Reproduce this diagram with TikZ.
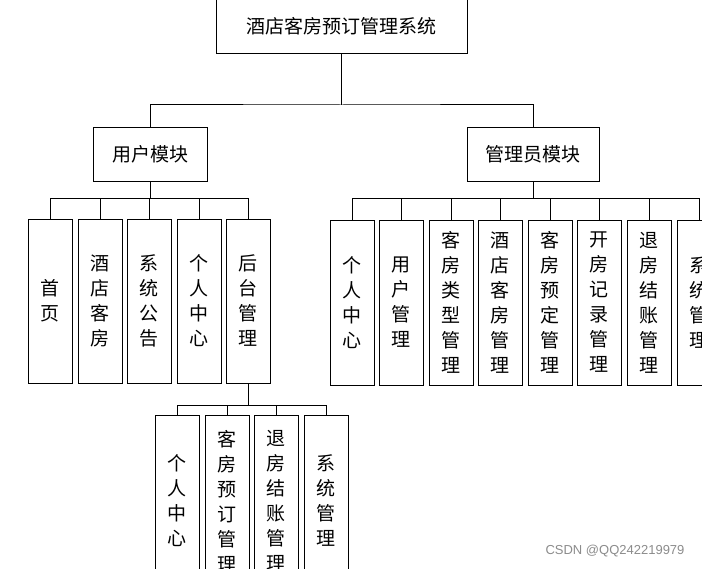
\documentclass[tikz,border=0pt]{standalone}
\usepackage{fontspec}
\newfontfamily\cjk{Noto Sans CJK SC}
\begin{document}
\begin{tikzpicture}[x=1pt,y=-1pt,
  box/.style={draw,line width=0.8pt,fill=white,inner sep=0pt,font=\cjk\fontsize{19}{25}\selectfont},
  vbox/.style={box,minimum width=44pt,minimum height=164pt,align=center},
  ln/.style={line width=1pt}]
\useasboundingbox (0,0) rectangle (702,569);
\clip (0,0) rectangle (702,569);
\fill[white] (0,0) rectangle (702,569);
\node[box,minimum width=251pt,minimum height=54pt] (root) at (341.5,26) {酒店客房预订管理系统};
\node[box,minimum width=114pt,minimum height=54pt] (user) at (150,154) {用户模块};
\node[box,minimum width=132pt,minimum height=54pt] (admin) at (533,154) {管理员模块};
\coordinate (r1) at (341.5,105);
\draw[ln] (root.south) -- (r1);
\draw[ln] (user.north) |- (r1) -| (admin.north);
% user children
\foreach \n/\x/\t in {u1/50/首\\页,u2/100/酒\\店\\客\\房,u3/149/系\\统\\公\\告,u4/199/个\\人\\中\\心,u5/248/后\\台\\管\\理}{
  \node[vbox] (\n) at (\x,301) {\t};
}
\coordinate (uj) at (150,199);
\draw[ln] (user.south) -- (uj);
\foreach \n in {u1,u2,u3,u4,u5}{\draw[ln] (\n.north) |- (uj);}
% backend children
\foreach \n/\x/\t in {b1/177/个\\人\\中\\心,b2/227/客\\房\\预\\订\\管\\理,b3/276/退\\房\\结\\账\\管\\理,b4/326/系\\统\\管\\理}{
  \node[vbox,minimum height=172pt] (\n) at (\x,501) {\t};
}
\coordinate (bj) at (248,406);
\draw[ln] (u5.south) -- (bj);
\foreach \n in {b1,b2,b3,b4}{\draw[ln] (\n.north) |- (bj);}
% admin children
\foreach \n/\x/\t in {a1/352/个\\人\\中\\心,a2/401/用\\户\\管\\理,a3/451/客\\房\\类\\型\\管\\理,a4/500/酒\\店\\客\\房\\管\\理,a5/550/客\\房\\预\\定\\管\\理,a6/599/开\\房\\记\\录\\管\\理,a7/649/退\\房\\结\\账\\管\\理,a8/699/系\\统\\管\\理}{
  \node[vbox,minimum height=165pt] (\n) at (\x,302.5) {\t};
}
\coordinate (aj) at (533,199);
\draw[ln] (admin.south) -- (aj);
\foreach \n in {a1,a2,a3,a4,a5,a6,a7,a8}{\draw[ln] (\n.north) |- (aj);}
\node[font=\fontspec{Liberation Sans}\fontsize{13}{15}\selectfont,text=black!45,anchor=east] (wm) at (688,551) {CSDN @QQ242219979};
\end{tikzpicture}
\end{document}
